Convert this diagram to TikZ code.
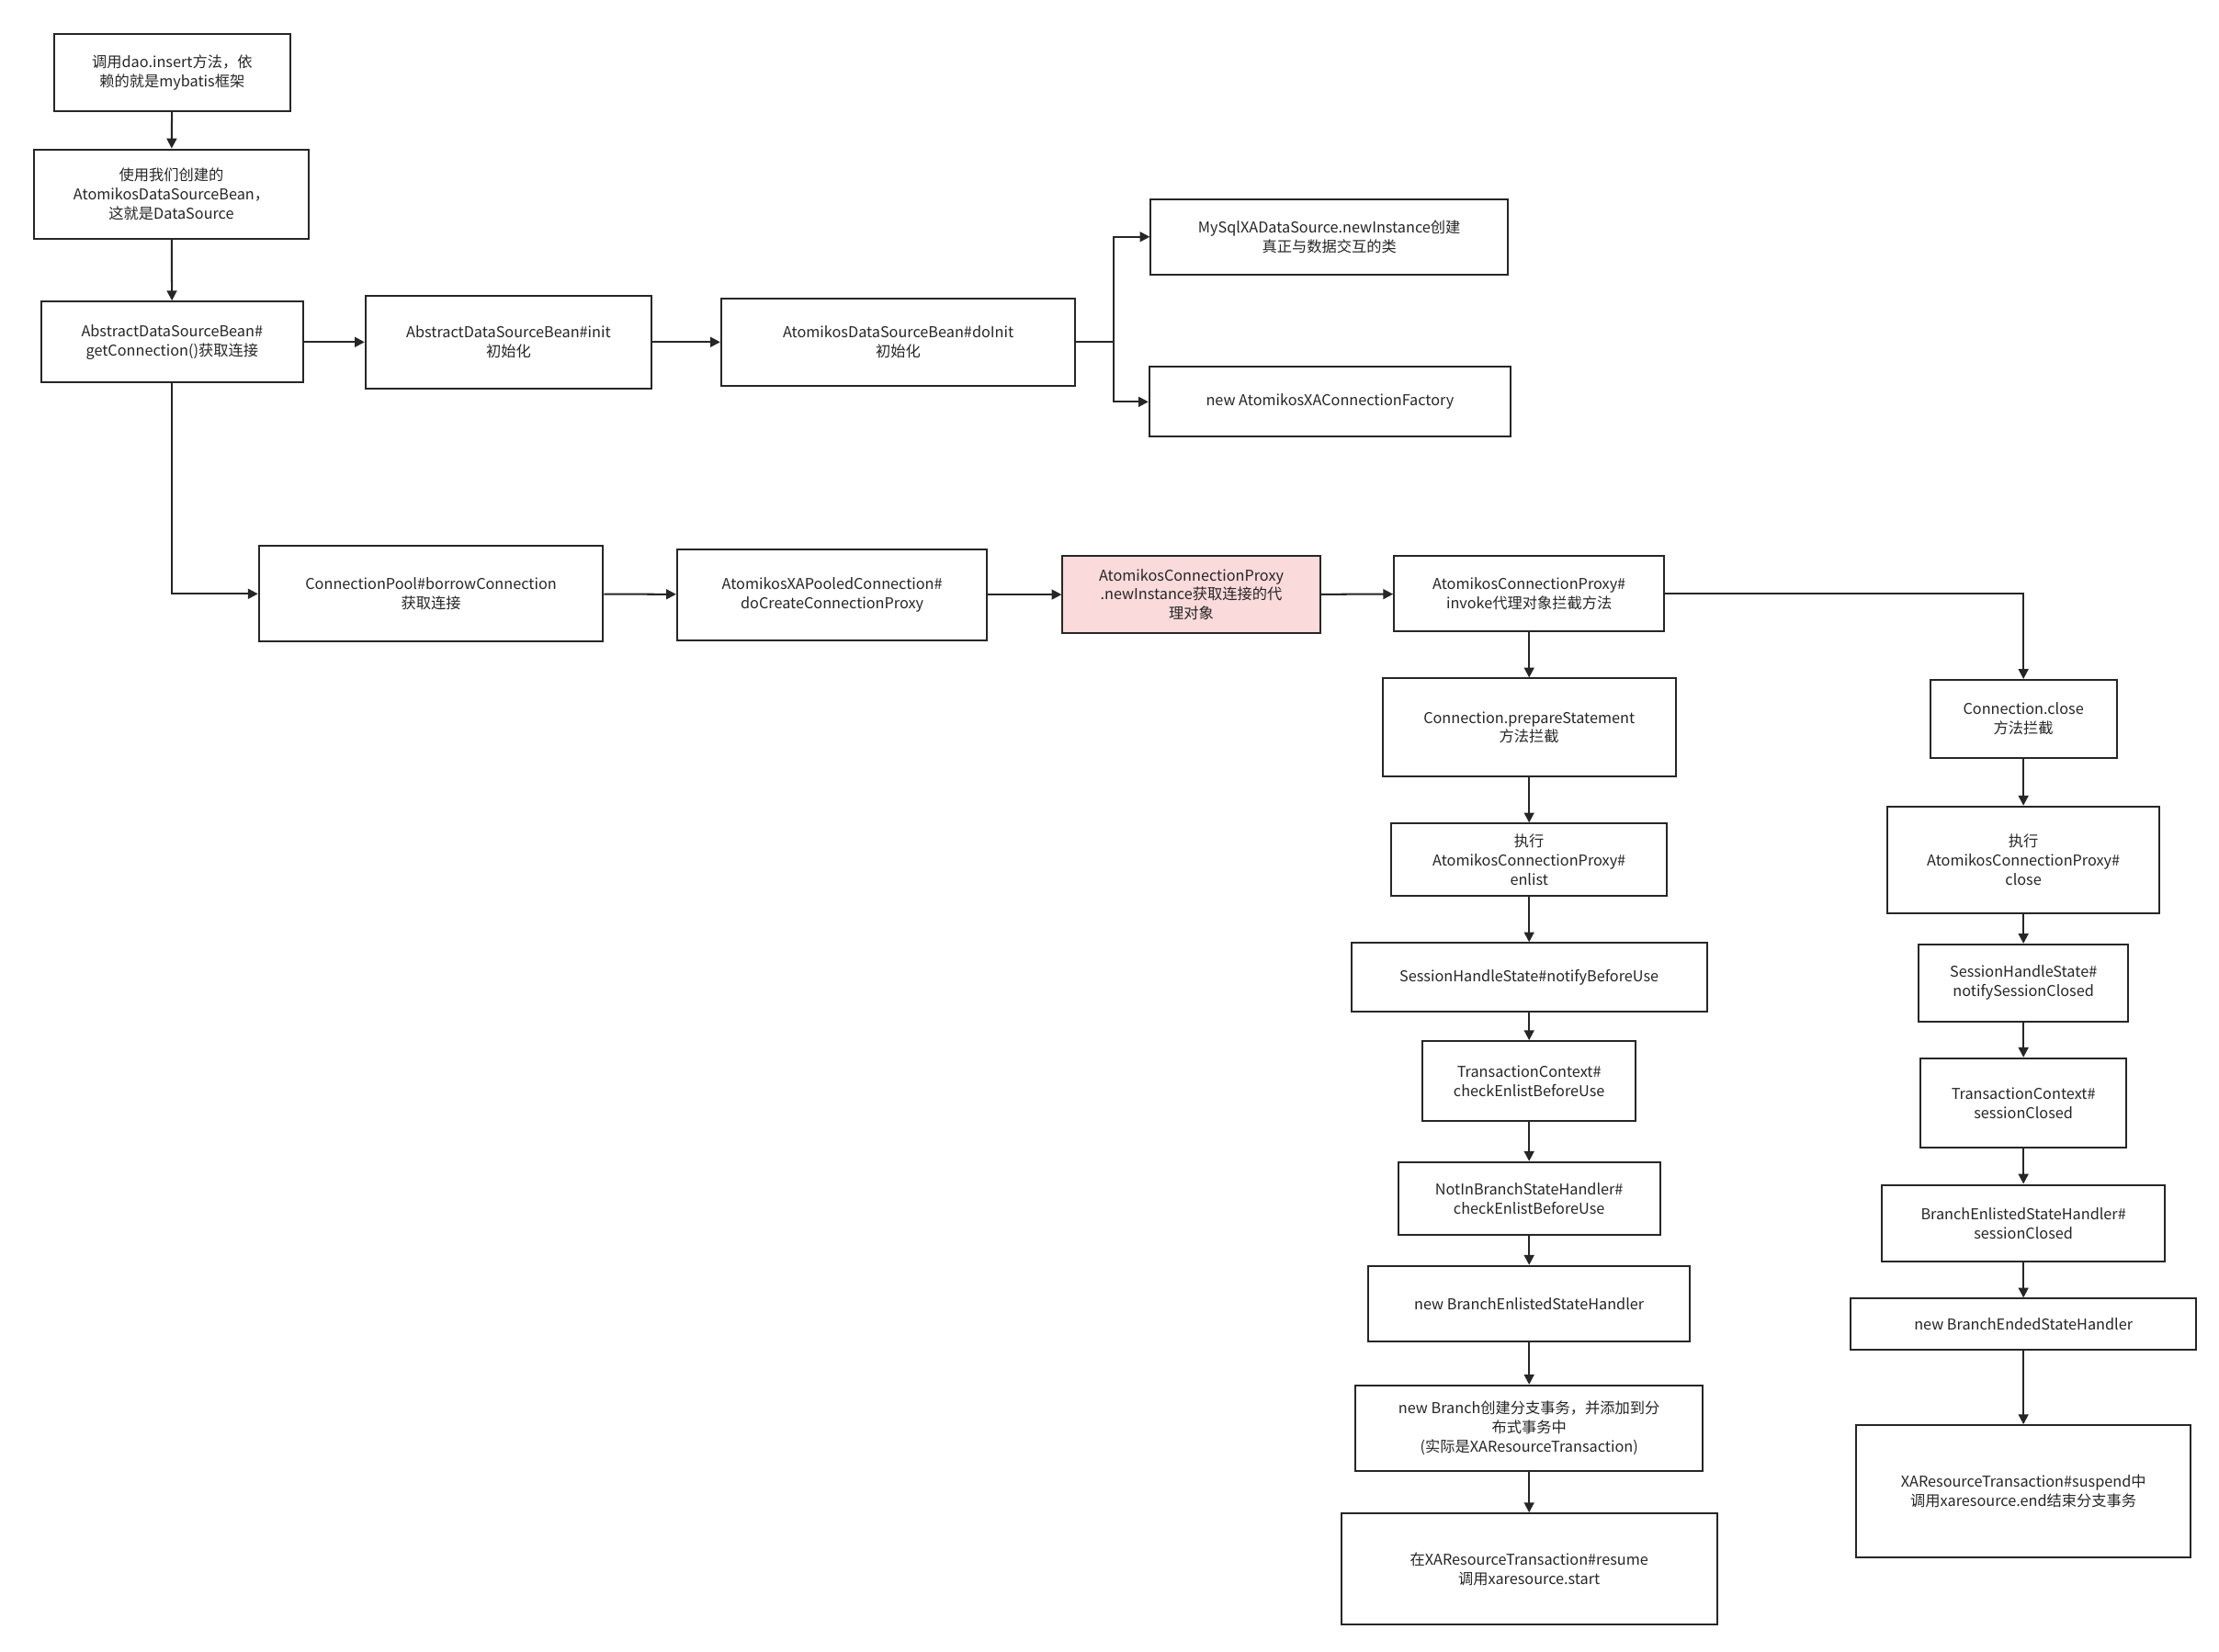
\documentclass[tikz,border=0pt]{standalone}
\usepackage{fontspec}
\setmainfont{Noto Sans CJK SC}
\usetikzlibrary{arrows.meta}
\newcommand\bx[7][]{%
  \pgfmathsetmacro\cx{(#3+#5)/2}\pgfmathsetmacro\cy{(#4+#6)/2}%
  \pgfmathsetmacro\ww{#5-#3}\pgfmathsetmacro\hh{#6-#4}%
  \node[box,#1,minimum width=\ww pt,minimum height=\hh pt] (#2) at (\cx,\cy) {#7};}
\begin{document}
\begin{tikzpicture}[x=1pt,y=-1pt,
  box/.style={draw=black!85,line width=1.3pt,fill=white,inner sep=0pt,align=center,
    font=\fontsize{10.5}{13.5}\selectfont,text=black!85},
  ar/.style={draw=black!85,line width=1.3pt,-{Triangle[length=7pt,width=7pt]}}]
\useasboundingbox[fill=white] (0,0) rectangle (1560,1161);
\bx{a}{38}{24}{204}{78}{调用dao.insert方法，依\\赖的就是mybatis框架}
\bx{b}{24}{105}{217}{168}{使用我们创建的\\AtomikosDataSourceBean，\\这就是DataSource}
\bx{c}{29}{212}{213}{269}{AbstractDataSourceBean\#\\getConnection()获取连接}
\bx{d}{257}{208}{458}{273}{AbstractDataSourceBean\#init\\初始化}
\bx{e}{507}{210}{756}{271}{AtomikosDataSourceBean\#doInit\\初始化}
\bx{f}{809}{140}{1060}{193}{MySqlXADataSource.newInstance创建\\真正与数据交互的类}
\bx{g}{808}{258}{1062}{307}{new AtomikosXAConnectionFactory}
\bx{h}{182}{384}{424}{451}{ConnectionPool\#borrowConnection\\获取连接}
\bx{i}{476}{386}{694}{450}{AtomikosXAPooledConnection\#\\doCreateConnectionProxy}
\bx[fill={rgb,255:red,250;green,218;blue,218}]{j}{747}{391}{928}{445}{AtomikosConnectionProxy\\.newInstance获取连接的代\\理对象}
\bx{k}{980}{391}{1170}{444}{AtomikosConnectionProxy\#\\invoke代理对象拦截方法}
\bx{l}{972}{477}{1178}{546}{Connection.prepareStatement\\方法拦截}
\bx{m}{978}{579}{1172}{630}{执行\\AtomikosConnectionProxy\#\\enlist}
\bx{n}{950}{663}{1200}{711}{SessionHandleState\#notifyBeforeUse}
\bx{o}{1000}{732}{1150}{788}{TransactionContext\#\\checkEnlistBeforeUse}
\bx{p}{983}{817}{1167}{868}{NotInBranchStateHandler\#\\checkEnlistBeforeUse}
\bx{q}{962}{890}{1188}{943}{new BranchEnlistedStateHandler}
\bx{r}{953}{974}{1197}{1034}{new Branch创建分支事务，并添加到分\\布式事务中\\(实际是XAResourceTransaction)}
\bx{s}{943}{1064}{1207}{1142}{在XAResourceTransaction\#resume\\调用xaresource.start}
\bx{t}{1357}{478}{1488}{533}{Connection.close\\方法拦截}
\bx{u}{1327}{567}{1518}{642}{执行\\AtomikosConnectionProxy\#\\close}
\bx{v}{1349}{664}{1496}{718}{SessionHandleState\#\\notifySessionClosed}
\bx{w}{1350}{744}{1495}{807}{TransactionContext\#\\sessionClosed}
\bx{x}{1323}{833}{1522}{887}{BranchEnlistedStateHandler\#\\sessionClosed}
\bx{y}{1301}{913}{1544}{949}{new BranchEndedStateHandler}
\bx{z}{1305}{1002}{1540}{1095}{XAResourceTransaction\#suspend中\\调用xaresource.end结束分支事务}
\draw[ar] (a) -- (b);
\draw[ar] (b) -- (c);
\draw[ar] (c) -- (d);
\draw[ar] (d) -- (e);
\coordinate (ej) at ([xshift=26pt]e.east);
\draw[ar] (e.east) -- (ej) |- (f.west);
\draw[ar] (e.east) -- (ej) |- (g.west);
\draw[ar] (c.south) |- (h.west);
\draw[ar] (h) -- (i);
\draw[ar] (i) -- (j);
\draw[ar] (j) -- (k);
\draw[ar] (k) -- (l);
\draw[ar] (k.east) -| (t.north);
\foreach \p/\q in {l/m,m/n,n/o,o/p,p/q,q/r,r/s,t/u,u/v,v/w,w/x,x/y,y/z}
  \draw[ar] (\p) -- (\q);
\end{tikzpicture}
\end{document}
